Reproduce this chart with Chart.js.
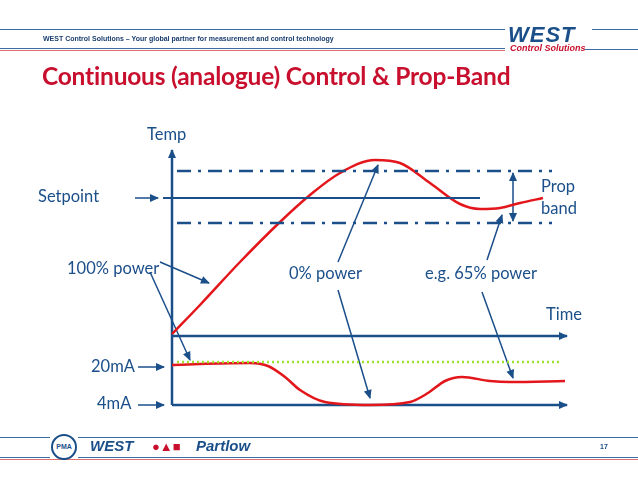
<!DOCTYPE html>
<html>
<head>
<meta charset="utf-8">
<script src="https://cdn.jsdelivr.net/npm/chart.js@4/dist/chart.umd.min.js"></script>
<style>
  body { margin: 0; background: #fff; font-family: Lato, "Open Sans", sans-serif; }
  #wrap { position: relative; width: 638px; height: 478px; overflow: hidden; }
  #chart { position: absolute; left: 0; top: 0; }
  .hl { position: absolute; height: 1px; }
  .tag { position: absolute; left: 43px; top: 35px; font: bold 7px Arial, sans-serif; color: #1a3d6e; }
  .title { position: absolute; left: 42px; top: 61px; font: bold 24.5px Lato, sans-serif; color: #c8102e; letter-spacing: -0.2px; }
  .logo { position: absolute; left: 508px; top: 22px; font: italic 900 22px Arial, sans-serif; color: #1b4f8a; letter-spacing: 1px; }
  .logo2 { position: absolute; left: 510px; top: 43px; font: italic bold 9px Arial, sans-serif; color: #c8102e; }
  .foot { position: absolute; top: 437px; font: italic 900 15px Arial, sans-serif; color: #1b4f8a; }
  .pma { position: absolute; left: 51px; top: 434px; width: 22px; height: 22px; border: 2px solid #1b4f8a; border-radius: 50%; font: bold 7px Arial; color: #1b4f8a; text-align: center; line-height: 22px; background: #fff; }
  .pg { position: absolute; left: 600px; top: 443px; font: bold 7px Arial; color: #1b4f8a; }
</style>
</head>
<body>
<div id="wrap">
  <canvas id="chart" width="638" height="478"></canvas>
  <div class="hl" style="left:0;top:29px;width:505px;background:#3a6ea5"></div>
  <div class="hl" style="left:0;top:48px;width:505px;background:#3a6ea5"></div>
  <div class="hl" style="left:0;top:50px;width:505px;background:#e07070"></div>
  <div class="hl" style="left:592px;top:29px;width:46px;background:#3a6ea5"></div>
  <div class="hl" style="left:585px;top:49px;width:53px;background:#3a6ea5"></div>
  <div class="tag">WEST Control Solutions – Your global partner for measurement and control technology</div>
  <div class="logo">WEST</div>
  <div class="logo2">Control Solutions</div>
  <div class="title">Continuous (analogue) Control &amp; Prop-Band</div>
  <div class="hl" style="left:0;top:437px;width:50px;background:#3a6ea5"></div>
  <div class="hl" style="left:78px;top:437px;width:560px;background:#3a6ea5"></div>
  <div class="hl" style="left:0;top:457px;width:50px;background:#3a6ea5"></div>
  <div class="hl" style="left:78px;top:457px;width:560px;background:#3a6ea5"></div>
  <div class="hl" style="left:0;top:459px;width:638px;background:#e07070"></div>
  <div class="pma">PMA</div>
  <div class="foot" style="left:90px">WEST</div>
  <div class="foot" style="left:152px;color:#c8102e;font-size:13px;top:439px">●▲■</div>
  <div class="foot" style="left:196px">Partlow</div>
  <div class="pg">17</div>
</div>
<script>
// diagram units: x across the slide, y down the slide
const tempX = [172, 200, 240, 280, 310, 340, 375, 400, 430, 460, 480, 500, 520, 543];
const tempY = [334, 305, 262, 222, 195, 173, 160, 163, 183, 204, 209, 208, 203, 198];
const outX = [172, 200, 250, 268, 285, 300, 325, 370, 410, 428, 445, 462, 490, 510, 565];
const outY = [365, 364, 363, 366, 377, 390, 402, 405, 402, 393, 381, 377, 381, 382, 381];

const setpointY = 198;
const bandTopY = 171;
const bandBottomY = 223;
const fullOutputY = 362;

// [x1, y1, x2, y2, heads]
const arrows = [
  [172, 405, 172, 150, 1],   // temp axis
  [172, 336, 567, 336, 1],   // time axis
  [172, 405, 567, 405, 1],   // output axis
  [135, 198, 158, 198, 1],
  [138, 367, 164, 367, 1],
  [138, 405, 164, 405, 1],
  [513, 173, 513, 221, 2],   // prop band
  [160, 262, 209, 283, 1],
  [150, 272, 190, 360, 1],
  [338, 262, 378, 165, 1],
  [338, 290, 370, 398, 1],
  [487, 260, 502, 215, 1],
  [482, 292, 513, 378, 1]
];

const labels = [
  ['Temp', 147, 135],
  ['Setpoint', 38, 197],
  ['Prop', 541, 187],
  ['band', 541, 209],
  ['100% power', 67, 269],
  ['0% power', 289, 274],
  ['e.g. 65% power', 425, 274],
  ['Time', 546, 315],
  ['20mA', 91, 367],
  ['4mA', 97, 404]
];

const blue = '#1b4f8a';
const red = '#e3161b';
const pts = (xs, ys) => xs.map((x, i) => ({ x: x, y: ys[i] }));
const seg = (x1, y1, x2, y2) => [{ x: x1, y: y1 }, { x: x2, y: y2 }];

const datasets = [
  { data: seg(177, bandTopY, 552, bandTopY), borderColor: blue, borderWidth: 2.5, borderDash: [14, 7, 3, 7] },
  { data: seg(177, bandBottomY, 552, bandBottomY), borderColor: blue, borderWidth: 2.5, borderDash: [14, 7, 3, 7] },
  { data: seg(163, setpointY, 480, setpointY), borderColor: blue, borderWidth: 2 },
  { data: seg(177, fullOutputY, 562, fullOutputY), borderColor: '#9be22c', borderWidth: 2.5, borderDash: [2, 3] },
  { data: pts(tempX, tempY), borderColor: red, borderWidth: 2.5, cubicInterpolationMode: 'monotone' },
  { data: pts(outX, outY), borderColor: red, borderWidth: 2.5, cubicInterpolationMode: 'monotone' }
];
arrows.forEach((a, i) => datasets.push({
  data: seg(a[0], a[1], a[2], a[3]), borderColor: blue,
  borderWidth: i < 3 ? 2.5 : 1.5, heads: a[4]
}));

const arrowHeads = {
  id: 'arrowHeads',
  afterDatasetsDraw(chart) {
    const ctx = chart.ctx, xs = chart.scales.x, ys = chart.scales.y;
    chart.data.datasets.forEach(ds => {
      if (!ds.heads) return;
      const p = ds.data.map(d => [xs.getPixelForValue(d.x), ys.getPixelForValue(d.y)]);
      const ends = ds.heads === 2 ? [[p[0], p[1]], [p[1], p[0]]] : [[p[0], p[1]]];
      ends.forEach(([a, b]) => {
        const ang = Math.atan2(b[1] - a[1], b[0] - a[0]);
        const L = 8, W = 4;
        ctx.save();
        ctx.fillStyle = blue;
        ctx.translate(b[0], b[1]);
        ctx.rotate(ang);
        ctx.beginPath();
        ctx.moveTo(1, 0);
        ctx.lineTo(-L, -W);
        ctx.lineTo(-L, W);
        ctx.closePath();
        ctx.fill();
        ctx.restore();
      });
    });
    ctx.save();
    ctx.fillStyle = blue;
    ctx.font = '16.5px Lato, "Open Sans", sans-serif';
    ctx.textBaseline = 'middle';
    ctx.textAlign = 'left';
    labels.forEach(l => {
      ctx.fillText(l[0], xs.getPixelForValue(l[1]), ys.getPixelForValue(l[2]));
    });
    ctx.restore();
  }
};

new Chart(document.getElementById('chart'), {
  type: 'line',
  data: { datasets: datasets },
  options: {
    responsive: false,
    animation: false,
    layout: { padding: 0 },
    elements: { point: { radius: 0 }, line: { fill: false, borderCapStyle: 'butt' } },
    scales: {
      x: { type: 'linear', min: 0, max: 638, display: false },
      y: { type: 'linear', min: 0, max: 478, reverse: true, display: false }
    },
    plugins: { legend: { display: false }, tooltip: { enabled: false } }
  },
  plugins: [arrowHeads]
});
</script>
</body>
</html>
